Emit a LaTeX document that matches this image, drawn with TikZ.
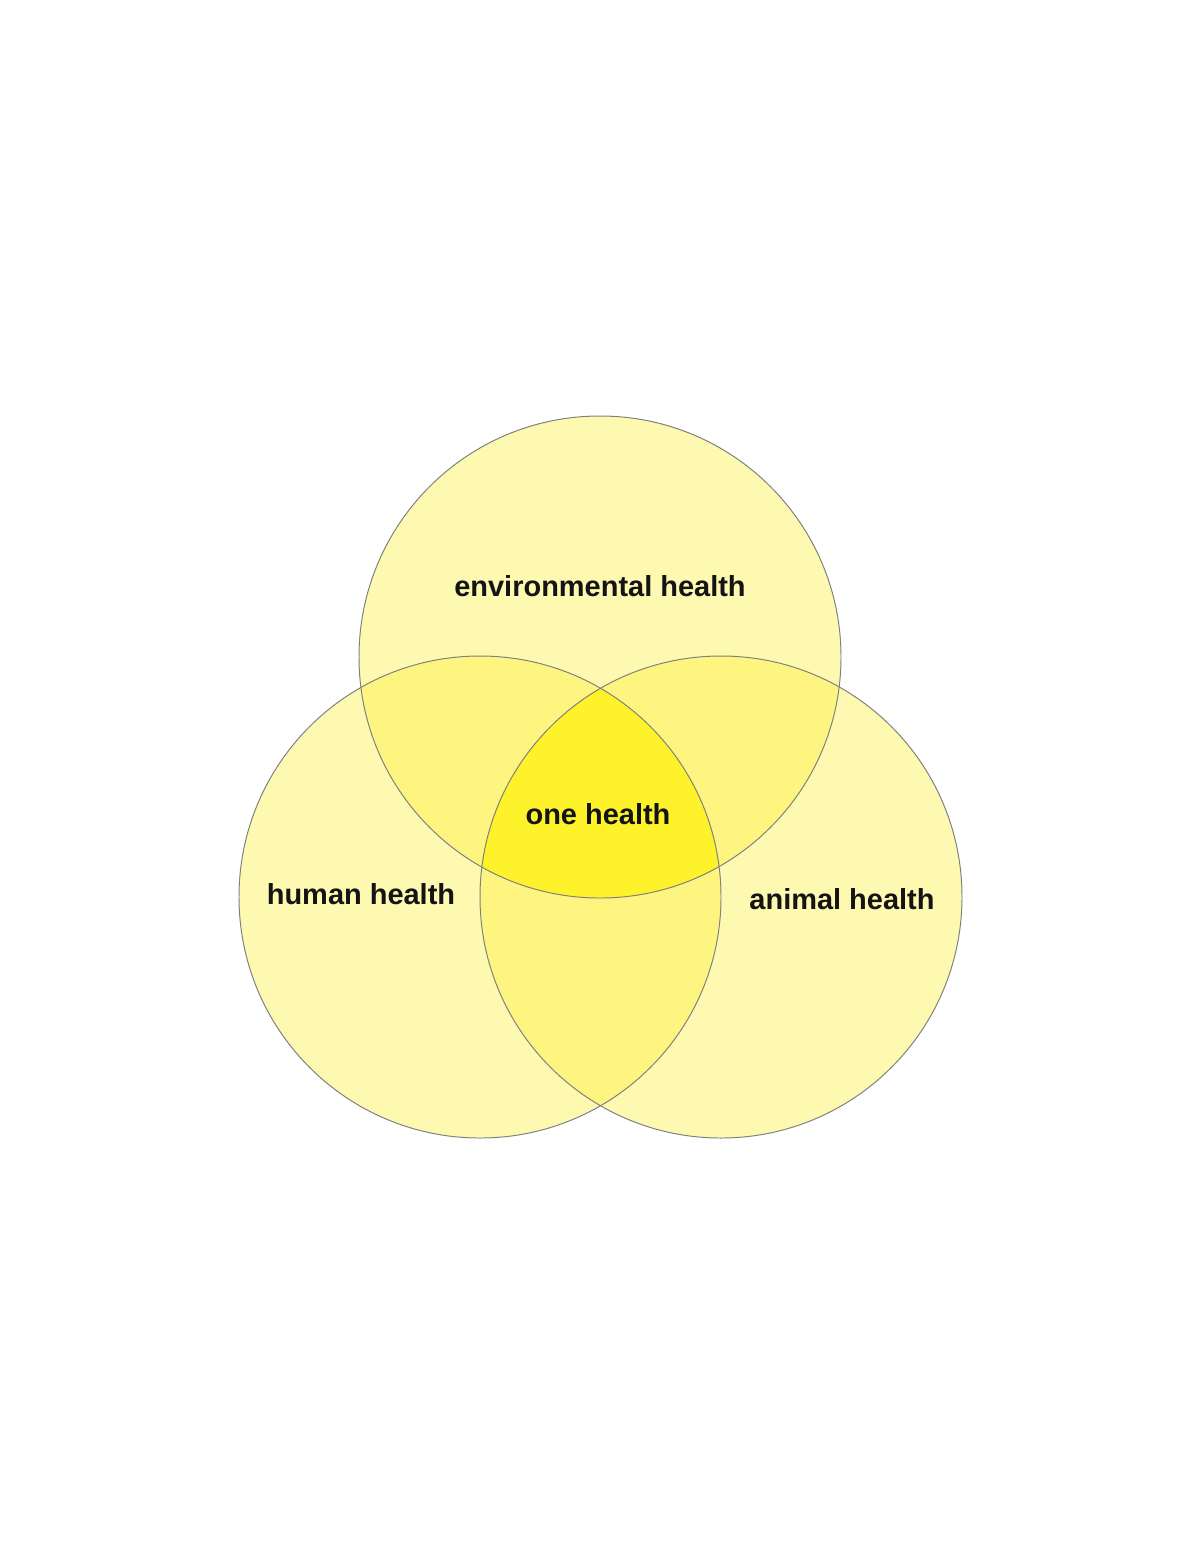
\documentclass[tikz,border=0pt]{standalone}
\usepackage{fontspec}
\setmainfont{Liberation Sans}
\usepackage{xcolor}
\usepackage{tikz}
\usetikzlibrary{backgrounds}
\definecolor{venna}{HTML}{FEF9B0}
\definecolor{vennb}{HTML}{FEF580}
\definecolor{vennc}{HTML}{FEF22B}
\definecolor{rim}{HTML}{808080}
\tikzset{venn label/.style={font=\fontsize{20.6}{25}\selectfont\bfseries, text=black!92, anchor=base, inner sep=0pt}}

\begin{document}
\begin{tikzpicture} [x=0.025cm, y=-0.025cm]
\useasboundingbox (0,0) rectangle (1200,1553);
\fill[white] (0,0) rectangle (1200,1553);
\foreach \cx/\cy in {600/657, 480/897, 721/897} {
 \fill[venna] (\cx,\cy) circle[radius=241];
}
% two-way overlaps
\begin{scope}
 \clip (600,657) circle[radius=241];
 \fill[vennb] (480,897) circle[radius=241];
 \fill[vennb] (721,897) circle[radius=241];
\end{scope}
\begin{scope}
 \clip (480,897) circle[radius=241];
 \fill[vennb] (721,897) circle[radius=241];
\end{scope}
% centre
\begin{scope}
 \clip (600,657) circle[radius=241];
 \clip (480,897) circle[radius=241];
 \fill[vennc] (721,897) circle[radius=241];
\end{scope}
\foreach \cx/\cy in {600/657, 480/897, 721/897} {
 \draw[rim, line width=0.7pt] (\cx,\cy) circle[radius=241];
}
\node[venn label] (env) at (600,596) {environmental health};
\node[venn label] (one) at (598,824) {one health};
\node[venn label] (human) at (361,904) {human health};
\node[venn label] (animal) at (842,909) {animal health};
\end{tikzpicture}
\end{document}
